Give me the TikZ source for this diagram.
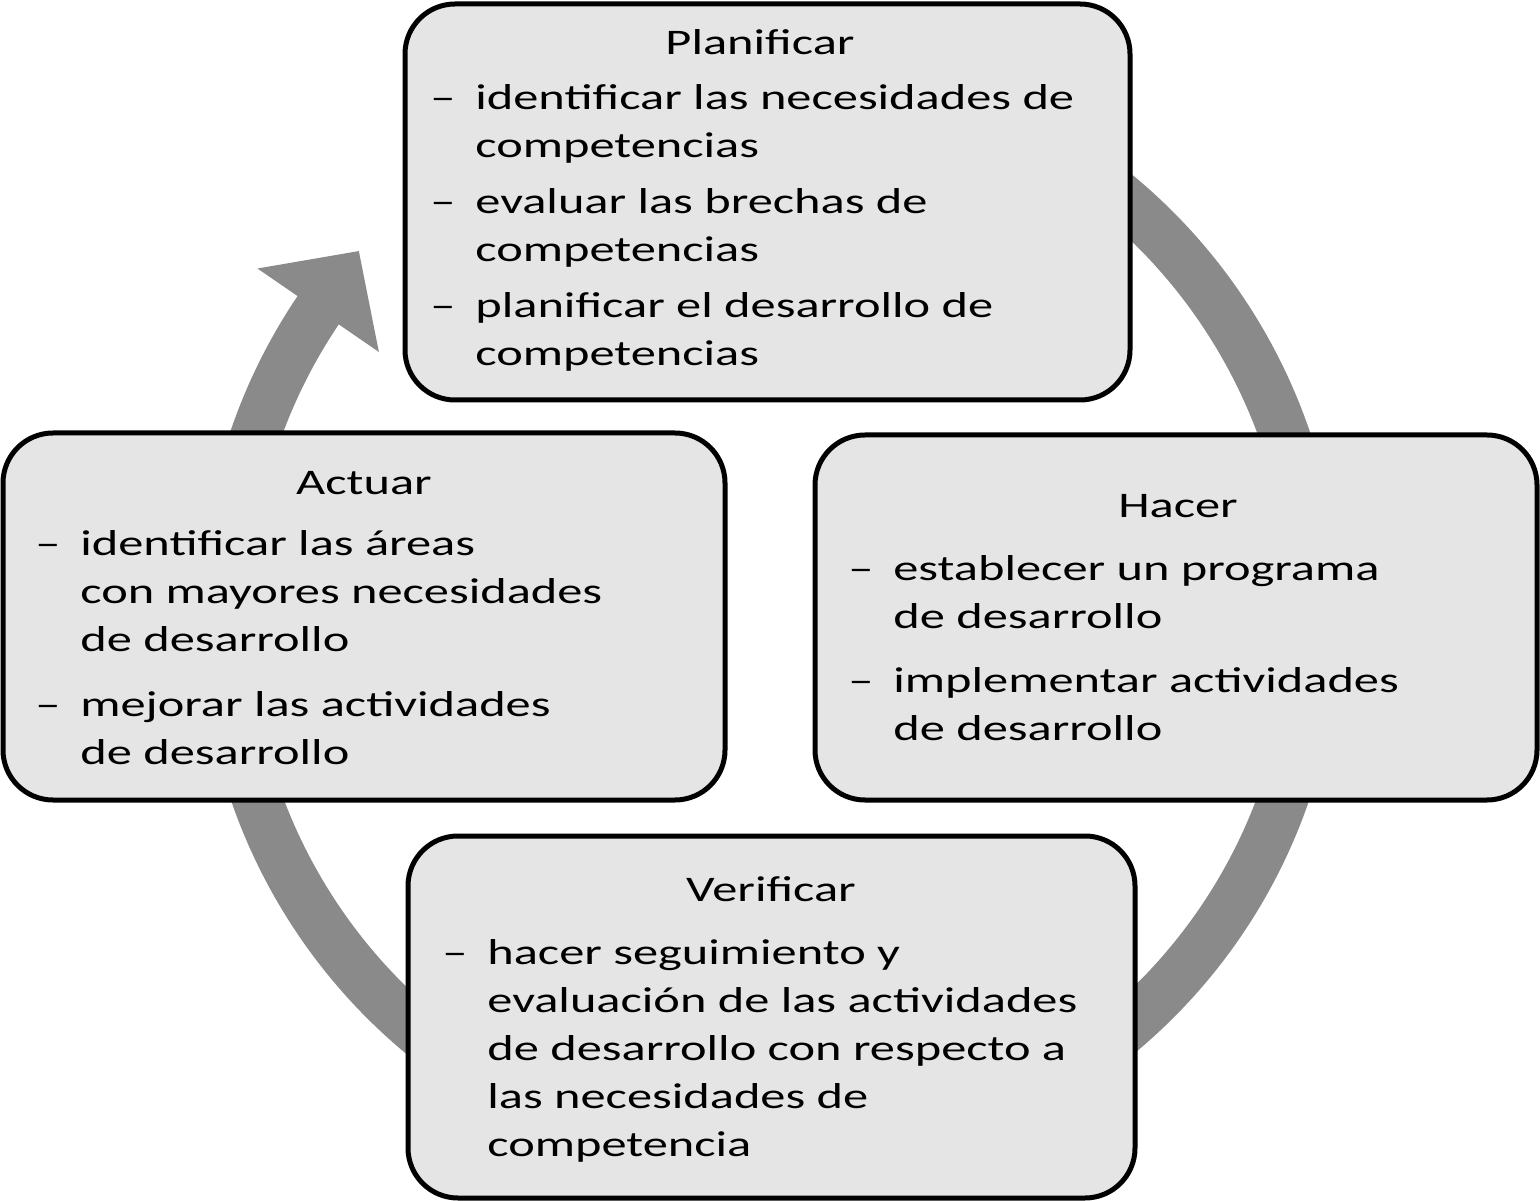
\documentclass[tikz,border=0pt]{standalone}
\usepackage{fontspec}
\setmainfont{Carlito}[FakeStretch=1.40]
\usepackage{tikz}
\usetikzlibrary{arrows.meta}
\definecolor{ringgray}{RGB}{138,138,138}
\definecolor{boxgray}{RGB}{229,229,229}
\tikzset{
  phase/.style={draw=black,fill=boxgray,line width=2.5pt,rounded corners=25pt,inner sep=0pt},
  ttl/.style={anchor=base,inner sep=0pt,font=\fontsize{18}{24}\selectfont},
  lst/.style={anchor=base west,inner sep=0pt,font=\fontsize{18}{24}\selectfont},
  ring/.style={ringgray,line width=25pt}
}

\begin{document}
\begin{tikzpicture}[x=0.5pt,y=0.5pt]
      \useasboundingbox (0,0) rectangle (1540,1200);
      \coordinate (hub) at (770,585);
      \draw[ring,-{Triangle[length=36pt,width=71.5pt]}] (hub) ++(80:545) arc[start angle=80,end angle=-214,radius=545] -- ++(55.5:72);
      \node[phase,minimum width=362.5pt,minimum height=198pt] (plan) at (767.5,998) {};
      \node[phase,minimum width=361pt,minimum height=183.5pt] (actuar) at (364,583.5) {};
      \node[phase,minimum width=361pt,minimum height=182.5pt] (hacer) at (1176,582.5) {};
      \node[phase,minimum width=363.5pt,minimum height=181pt] (verif) at (771.5,183) {};
      \node[ttl] (plant) at (760,1145) {Planificar};
      \node[lst] (planl) at (430,1090) {\begin{tabular}[t]{@{}p{22.5pt}@{}l@{}}
        -- & identificar las necesidades de\\
           & competencias\\[4pt]
        -- & evaluar las brechas de\\
           & competencias\\[4pt]
        -- & planificar el desarrollo de\\
           & competencias
      \end{tabular}};
      \node[ttl] (actuart) at (364,705) {Actuar};
      \node[lst] (actuarl) at (35,644) {\begin{tabular}[t]{@{}p{22.5pt}@{}l@{}}
        -- & identificar las áreas\\
           & con mayores necesidades\\
           & de desarrollo\\[8.5pt]
        -- & mejorar las actividades\\
           & de desarrollo
      \end{tabular}};
      \node[ttl] (hacert) at (1178,682) {Hacer};
      \node[lst] (hacerl) at (848,619) {\begin{tabular}[t]{@{}p{22.5pt}@{}l@{}}
        -- & establecer un programa\\
           & de desarrollo\\[8pt]
        -- & implementar actividades\\
           & de desarrollo
      \end{tabular}};
      \node[ttl] (veriftt) at (771,299) {Verificar};
      \node[lst] (verifl) at (442,236) {\begin{tabular}[t]{@{}p{22.5pt}@{}l@{}}
        -- & hacer seguimiento y\\
           & evaluación de las actividades\\
           & de desarrollo con respecto a\\
           & las necesidades de\\
           & competencia
      \end{tabular}};
    \end{tikzpicture}
\end{document}
